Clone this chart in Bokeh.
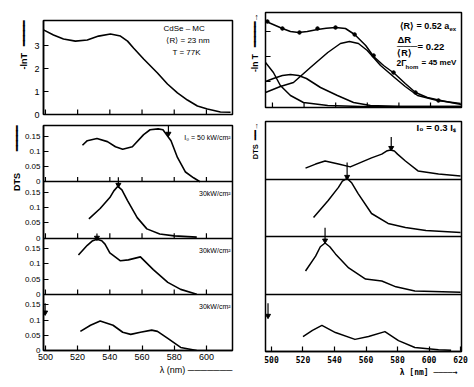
from bokeh.plotting import figure
from bokeh.models import Range1d, FixedTicker, Label, Title
from bokeh.layouts import row, column
from bokeh.embed import file_html
from bokeh.resources import INLINE

FONT = "Liberation Sans"
MONO = "DejaVu Sans Mono"

# ---------------- data ----------------
ticks_left = [500, 520, 540, 560, 580, 600]
ticks_right = [500, 520, 540, 560, 580, 600, 620]
lnT_ticks = [0, 1, 2, 3]
lnT_ticks_right = [1, 2, 3]
dts_ticks = [0, 0.05, 0.1, 0.15]
dts_tick_labels = ["0", "0.05", "0.1", "0.15"]
H = 0.185  # height of one DTS panel

# absorption, left (CdSe-MC, <R>=23nm, 77K)
abs_wl = [498.8, 505, 511.2, 518.6, 526, 533, 540.4, 546.6, 551, 554.7, 561,
          569.6, 575.8, 582, 588.2, 594.4, 600.6, 608.7, 615]
abs_val = [3.69, 3.47, 3.29, 3.20, 3.25, 3.42, 3.51, 3.42, 3.20, 2.90, 2.42,
           1.81, 1.33, 0.94, 0.63, 0.37, 0.24, 0.11, 0.10]

# absorption, right: fit, measured points and three components
fit_wl = [495.6, 497.5, 506.3, 511.4, 516.5, 522, 528.5, 534, 540, 546.2, 552,
          559, 564, 570.3, 577.2, 584, 590.5, 598, 605, 612.7, 619.6]
fit_val = [3.44, 3.36, 3.12, 3.0, 2.96, 3.0, 3.08, 3.13, 3.16, 3.12, 2.88,
           2.44, 2.0, 1.64, 1.32, 0.92, 0.56, 0.36, 0.26, 0.16, 0.08]
dot_wl = [496.8, 506.3, 517.1, 528.5, 539.9, 552, 564, 576.6, 590.5, 605]
dot_val = [3.4, 3.12, 2.96, 3.12, 3.16, 2.88, 2.04, 1.36, 0.56, 0.24]
c1_wl = [495.6, 505, 513.3, 524, 535, 543, 548.7, 554.4, 560, 568.4, 577.2,
         584, 591.8, 604.4, 619]
c1_val = [0.56, 0.8, 0.96, 1.56, 2.16, 2.52, 2.6, 2.52, 2.24, 1.64, 1.16,
          0.8, 0.44, 0.24, 0.12]
c2_wl = [495.6, 500.6, 506.3, 511.4, 516.5, 521.5, 530.4, 541.1, 551.3, 562, 581, 619.6]
c2_val = [1.0, 1.12, 1.24, 1.28, 1.24, 1.12, 0.76, 0.44, 0.16, 0.04, 0.0, 0.0]
c3_wl = [495.6, 500.6, 505, 511.4, 519.6, 535, 556, 619.6]
c3_val = [1.76, 1.36, 0.84, 0.44, 0.16, 0.04, 0.0, 0.0]

# DTS spectra, left column (top to bottom)
dtsL_wl = [
    [523, 526, 532, 538.5, 543.5, 548, 554, 561, 565, 570, 573, 578, 582, 587, 592, 596],
    [527, 534, 540, 542.5, 545, 547.5, 551, 557, 563, 571, 580, 594],
    [520.5, 526, 529, 532, 535, 537, 540, 546.6, 551.5, 559, 567, 576, 584, 594],
    [521.7, 528, 534, 542, 548, 553, 559, 566, 569.6, 576, 584, 594],
]
dtsL_val = [
    [0.12, 0.135, 0.142, 0.132, 0.115, 0.107, 0.115, 0.155, 0.171, 0.174, 0.171,
     0.135, 0.08, 0.032, 0.013, 0.0],
    [0.063, 0.097, 0.133, 0.155, 0.17, 0.158, 0.123, 0.067, 0.03, 0.013, 0.007, 0.003],
    [0.129, 0.161, 0.175, 0.181, 0.176, 0.165, 0.136, 0.11, 0.113, 0.123, 0.081,
     0.039, 0.016, 0.0],
    [0.063, 0.083, 0.097, 0.083, 0.06, 0.053, 0.06, 0.067, 0.063, 0.04, 0.01, 0.0],
]
dtsL_text = ["I\u2080 = 50 kW/cm\u00b2", "30kW/cm\u00b2", "30kW/cm\u00b2", "30kW/cm\u00b2"]

# DTS spectra, right column (top to bottom)
dtsR_wl = [
    [521.6, 528, 534, 542.5, 550, 563.5, 570, 573, 575.5, 578, 580, 585, 593, 606, 620],
    [526.7, 536, 542.5, 545, 548, 551, 555, 563.5, 574, 585, 598, 620],
    [521.6, 528, 531, 534, 537, 540.6, 549, 559.7, 570, 579, 591, 620],
    [520, 526, 532, 540.6, 553, 561.6, 572, 580.6, 591, 606, 614],
]
dtsR_val = [
    [0.035, 0.048, 0.058, 0.048, 0.039, 0.068, 0.08, 0.09, 0.093, 0.09, 0.08,
     0.058, 0.026, 0.016, 0.01],
    [0.061, 0.116, 0.158, 0.178, 0.187, 0.172, 0.138, 0.074, 0.042, 0.029, 0.019, 0.013],
    [0.074, 0.122, 0.152, 0.164, 0.152, 0.129, 0.084, 0.048, 0.042, 0.023, 0.01, 0.006],
    [0.048, 0.068, 0.084, 0.061, 0.039, 0.048, 0.064, 0.035, 0.013, 0.006, 0.004],
]
dtsR_text = "I\u2080 = 0.3 I\u209b"

# peak markers (panel index, wavelength, arrow top, arrow tip)
arrL_panel = [0, 1, 2, 3]
arrL_wl = [576.4, 545.3, 532, 499.8]
arrL_top = [0.185, 0.2, 0.2, 0.155]
arrL_tip = [0.158, 0.175, 0.186, 0.125]
arrR_panel = [0, 1, 2, 3]
arrR_wl = [576, 548, 534, 497.8]
arrR_top = [0.135, 0.238, 0.213, 0.155]
arrR_tip = [0.1, 0.192, 0.172, 0.115]


# ---------------- helpers ----------------
def style(p):
    p.outline_line_color = "black"
    p.outline_line_width = 1.5
    p.xgrid.visible = False
    p.ygrid.visible = False
    p.background_fill_color = "white"
    p.border_fill_color = "white"
    for ax in p.axis:
        ax.major_tick_in = 5
        ax.major_tick_out = 0
        ax.minor_tick_line_color = None
        ax.axis_line_width = 1.5
        ax.axis_line_color = "black"
        ax.major_tick_line_width = 1.2
        ax.major_tick_line_color = "black"
        ax.major_label_text_font = FONT
        ax.major_label_text_color = "black"
        ax.major_label_text_font_size = "9px"


def lab(p, x, y, text, size="8px", font=FONT, align="left",
        baseline="middle", style_="normal"):
    p.add_layout(Label(x=x, y=y, text=text, text_font=font,
                       text_font_size=size, text_align=align,
                       text_baseline=baseline, text_color="black",
                       text_font_style=style_))


def side_title(p, text, side, offset=0, size="9px", font=FONT, style_="normal",
               standoff=2, valign="bottom"):
    p.add_layout(Title(text=text, align="right", offset=offset,
                       standoff=standoff, text_font=font,
                       text_font_size=size, text_font_style=style_,
                       vertical_align=valign, text_color="black"), side)


def arrows(p, panels, wl, top, tip, npan):
    offs = [(npan - 1 - k) * H for k in panels]
    y0 = [o + t for o, t in zip(offs, top)]
    y1 = [o + t for o, t in zip(offs, tip)]
    p.segment(x0=wl, y0=y0, x1=wl, y1=y1, line_color="black", line_width=1.2)
    p.scatter(x=wl, y=y1, marker="inverted_triangle", size=5,
              fill_color="black", line_color="black")


NB = "\u00a0"
LN = "\u2500"
HV = "\u2501"

# ---------------- left column ----------------
pA = figure(frame_width=189, frame_height=94, min_border_left=43,
            min_border_right=13, min_border_top=20, min_border_bottom=5,
            x_range=Range1d(498.8, 616.2), y_range=Range1d(0, 4.1),
            output_backend="svg", toolbar_location=None)
style(pA)
pA.xaxis.visible = False
pA.yaxis.ticker = FixedTicker(ticks=lnT_ticks)
pA.yaxis.major_label_standoff = 4
pA.segment(x0=ticks_left, y0=[0] * len(ticks_left), x1=ticks_left,
           y1=[0.22] * len(ticks_left), line_color="black", line_width=1.2)
pA.line(abs_wl, abs_val, line_color="black", line_width=1.6, line_join="round")
lab(pA, 573.3, 3.75, "CdSe \u2013 MC")
lab(pA, 575.2, 3.23, "\u27e8R\u27e9 = 23 nm")
lab(pA, 578.9, 2.70, "T = 77K")
side_title(pA, "-lnT" + NB * 3 + HV * 5, "left", offset=0, standoff=6,
           style_="bold")

pB = figure(frame_width=189, frame_height=225, min_border_left=43,
            min_border_right=13, min_border_top=6, min_border_bottom=30,
            x_range=Range1d(498.8, 616.2), y_range=Range1d(0, 4 * H),
            output_backend="svg", toolbar_location=None)
style(pB)
pB.xaxis.ticker = FixedTicker(ticks=ticks_left)
pB.xaxis.major_label_standoff = 3
yt, ov = [], {}
for k in range(4):
    off = (3 - k) * H
    for t, s in zip(dts_ticks, dts_tick_labels):
        v = round(off + t, 6)
        yt.append(v)
        ov[v] = s
pB.yaxis.ticker = FixedTicker(ticks=yt)
pB.yaxis.major_label_overrides = ov
pB.yaxis.major_label_text_font_size = "8px"
pB.yaxis.major_label_standoff = 3
pB.hspan(y=[H, 2 * H, 3 * H], line_color="black", line_width=1.5)
sx = [t for b in range(1, 4) for t in ticks_left]
sy0 = [b * H for b in range(1, 4) for t in ticks_left]
sy1 = [b * H + 0.016 for b in range(1, 4) for t in ticks_left]
pB.segment(x0=sx, y0=sy0, x1=sx, y1=sy1, line_color="black", line_width=1.2)
for k in range(4):
    off = (3 - k) * H
    pB.line(dtsL_wl[k], [v + off for v in dtsL_val[k]], line_color="black",
            line_width=1.6, line_join="round")
    lab(pB, 615, off + 0.145, dtsL_text[k], size="7px", align="right")
arrows(pB, arrL_panel, arrL_wl, arrL_top, arrL_tip, 4)
side_title(pB, "DTS" + NB * 9 + HV * 5, "left", offset=0, standoff=0,
           style_="bold")
side_title(pB, "\u03bb (nm)" + NB + LN * 7, "below", offset=0, standoff=0)

# ---------------- right column ----------------
pC = figure(frame_width=196, frame_height=95, min_border_left=20,
            min_border_right=8, min_border_top=12, min_border_bottom=6,
            x_range=Range1d(495.6, 619.6), y_range=Range1d(-0.04, 3.76),
            output_backend="svg", toolbar_location=None)
style(pC)
pC.xaxis.visible = False
pC.yaxis.visible = False
pC.segment(x0=ticks_left, y0=[-0.04] * len(ticks_left), x1=ticks_left,
           y1=[0.16] * len(ticks_left), line_color="black", line_width=1.2)
pC.segment(x0=[495.6] * 3, y0=lnT_ticks_right, x1=[498.8] * 3,
           y1=lnT_ticks_right, line_color="black", line_width=1.2)
for wl, vv in ((fit_wl, fit_val), (c1_wl, c1_val), (c2_wl, c2_val), (c3_wl, c3_val)):
    pC.line(wl, vv, line_color="black", line_width=1.5, line_join="round")
pC.scatter(dot_wl, dot_val, size=3.5, fill_color="black", line_color="black")
lab(pC, 580.4, 3.24, "\u27e8R\u27e9 = 0.52 a", size="9px", style_="bold")
lab(pC, 612.0, 3.10, "ex", size="6px", style_="bold")
lab(pC, 579.1, 2.68, "\u0394R", size="9.5px", style_="bold")
lab(pC, 578.8, 2.44, LN * 3, size="9.5px", style_="bold")
lab(pC, 579.0, 2.16, "\u27e8R\u27e9", size="9px", style_="bold")
lab(pC, 591.8, 2.42, "= 0.22", size="9.5px", style_="bold")
lab(pC, 578.5, 1.76, "2\u0393", size="8.5px", style_="bold")
lab(pC, 584.2, 1.60, "hom", size="6px", style_="bold")
lab(pC, 594.3, 1.76, "= 45 meV", size="8px", style_="bold")
side_title(pC, "-ln T" + NB * 3 + HV * 5 + "\u2192", "left", offset=1,
           style_="bold", size="8.5px", standoff=8, valign="top")

pD = figure(frame_width=196, frame_height=230, min_border_left=20,
            min_border_right=8, min_border_top=8, min_border_bottom=30,
            x_range=Range1d(496.2, 620.6), y_range=Range1d(0, 4 * H),
            output_backend="svg", toolbar_location=None)
style(pD)
pD.xaxis.ticker = FixedTicker(ticks=ticks_right)
pD.xaxis.major_label_text_font = MONO
pD.xaxis.major_label_text_font_style = "bold"
pD.xaxis.major_label_text_font_size = "8px"
pD.xaxis.major_label_standoff = 4
pD.yaxis.visible = False
pD.hspan(y=[H, 2 * H, 3 * H], line_color="black", line_width=1.5)
for k in range(4):
    off = (3 - k) * H
    pD.line(dtsR_wl[k], [v + off for v in dtsR_val[k]], line_color="black",
            line_width=1.5, line_join="round")
lab(pD, 617, 3 * H + 0.165, dtsR_text, size="9.5px", align="right", style_="bold")
arrows(pD, arrR_panel, arrR_wl, arrR_top, arrR_tip, 4)
side_title(pD, "DTS" + NB * 2 + HV * 2 + "\u2192", "left", offset=1,
           style_="bold", size="7.5px", standoff=8, valign="top")
side_title(pD, "\u03bb [nm]" + NB + LN * 4 + "\u2192", "below", offset=4,
           style_="bold", size="8px", standoff=0, font=MONO)

layout = row(column(pA, pB), column(pC, pD))
open("out.html", "w").write(file_html(layout, INLINE))
